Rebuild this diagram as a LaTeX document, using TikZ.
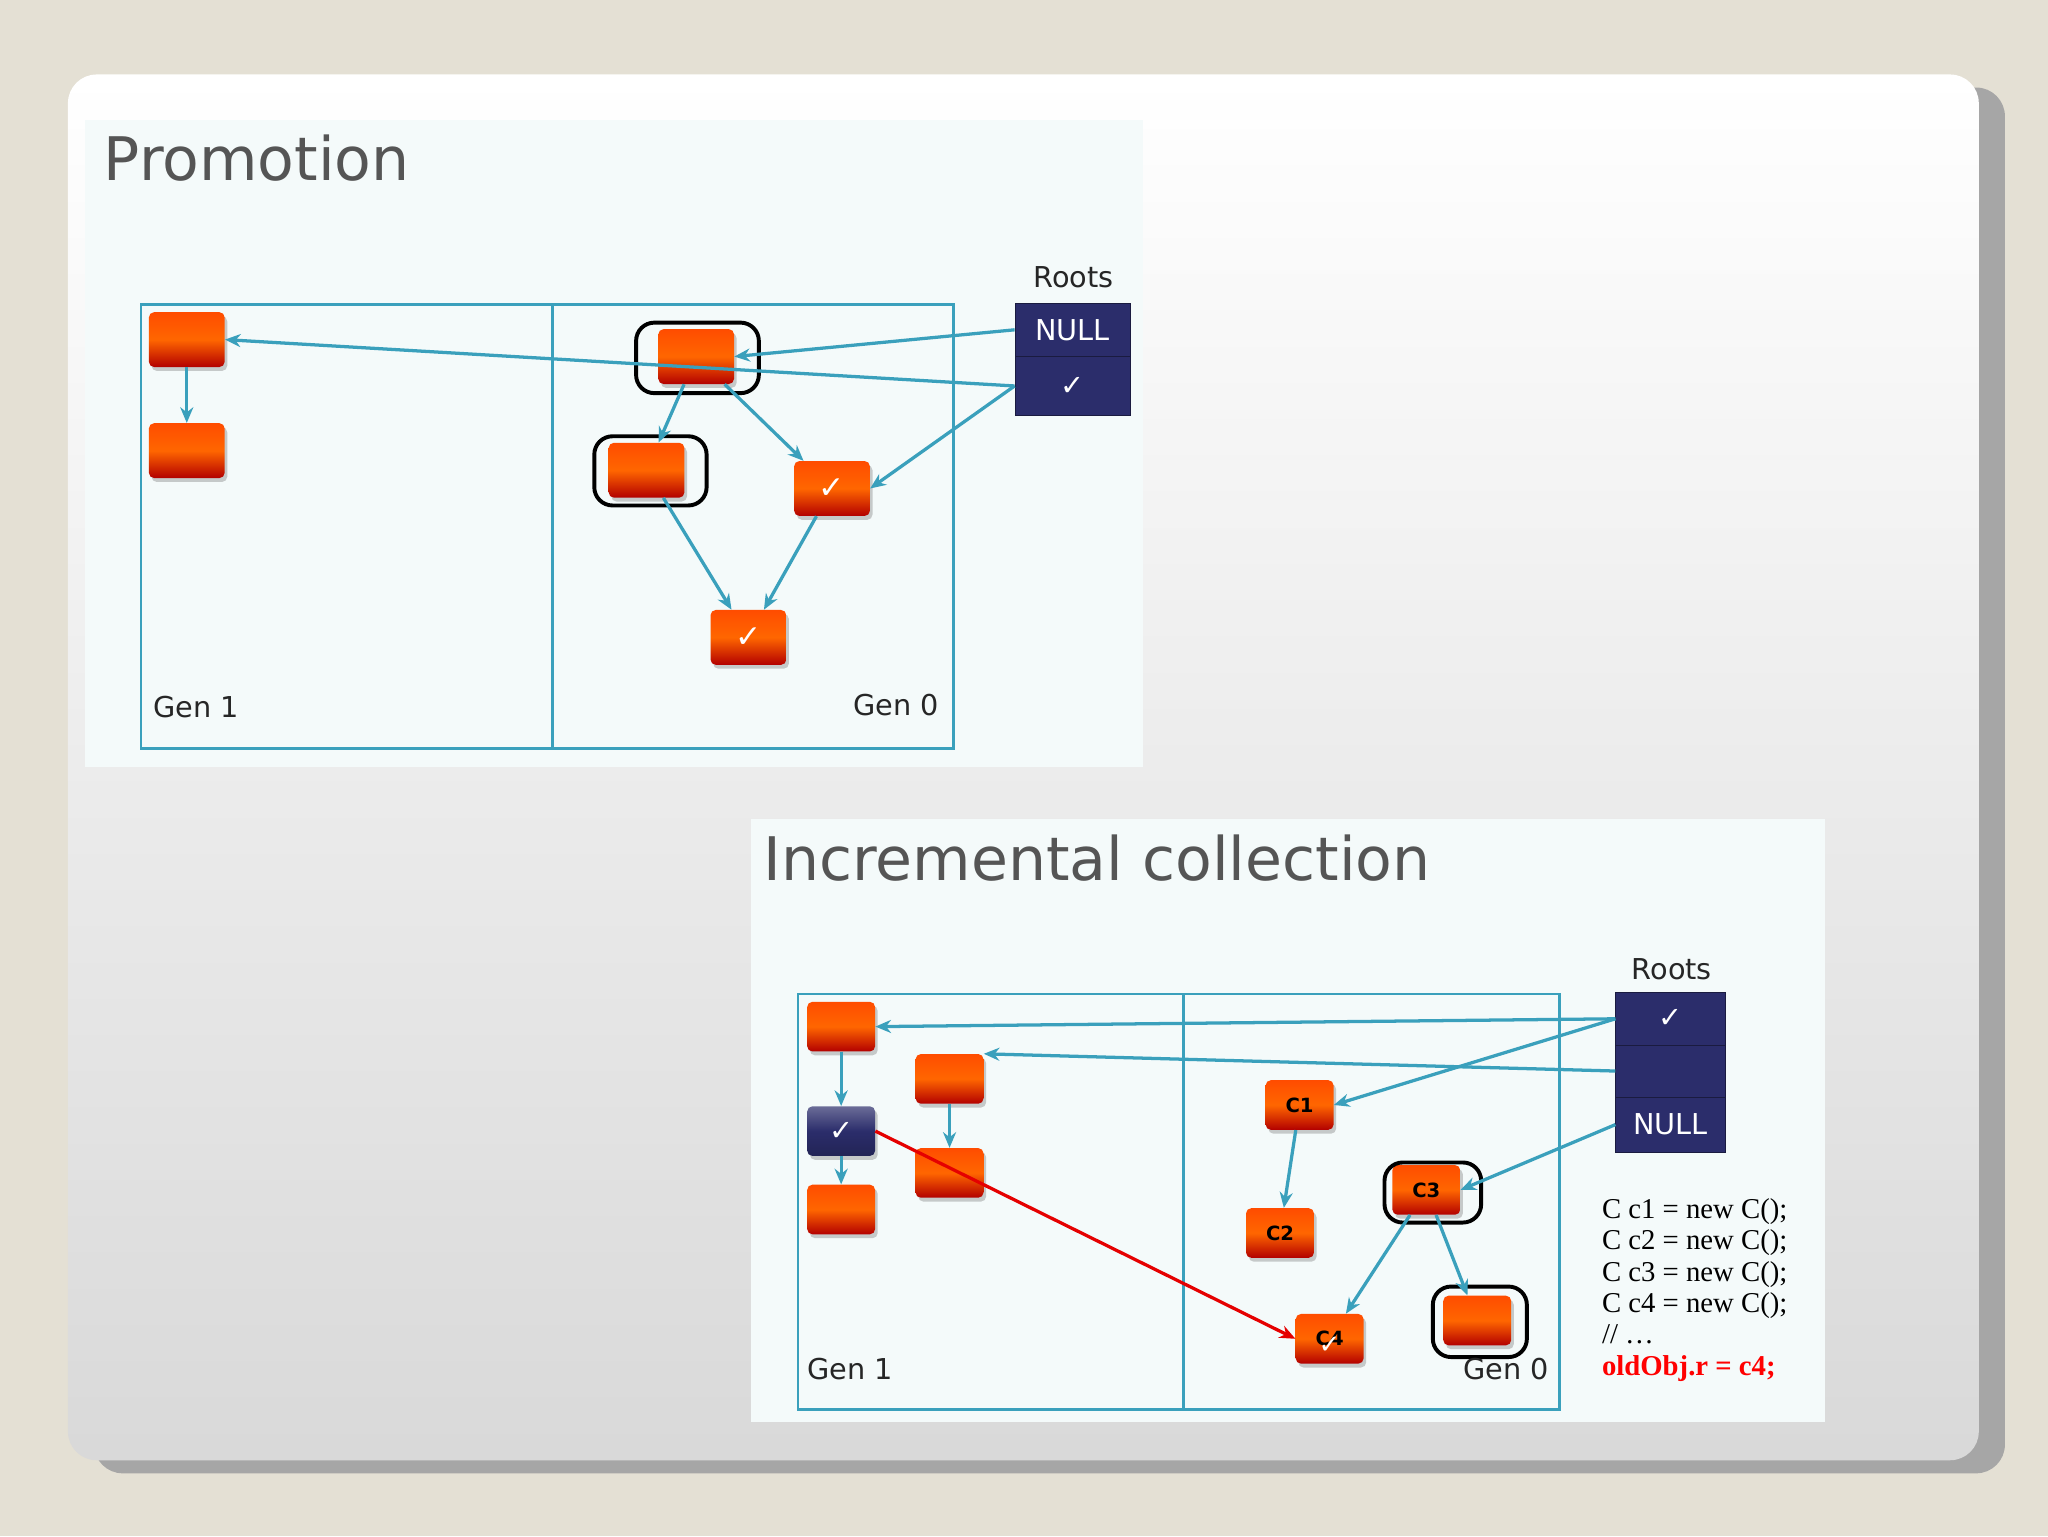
\documentclass[tikz,border=0pt]{standalone}
\usepackage{fontspec}
\setmainfont{DejaVu Sans}
\newfontfamily\codefont{Liberation Serif}
\usetikzlibrary{arrows.meta,shadows}
\newcommand{\tick}{{\fontspec{DejaVu Sans}✓}}
\definecolor{bgc}{HTML}{E4E0D4}
\definecolor{teal}{HTML}{3AA0BC}
\definecolor{navy}{HTML}{2B2D6B}
\definecolor{ttl}{HTML}{555555}
\definecolor{pan}{HTML}{F4FAFA}
\tikzset{
 obj/.style={draw=none,rounded corners=4pt,minimum width=58pt,minimum height=42pt,top color=orange!60!red,bottom color=red!70!black,middle color=orange!80!red,drop shadow={shadow xshift=2pt,shadow yshift=-3pt,opacity=.4},text=white,font=\fontsize{24}{24}\selectfont},
 sobj/.style={obj,minimum width=52pt,minimum height=38pt,font=\fontsize{15}{15}\selectfont\bfseries,text=black},
 nobj/.style={sobj,top color=navy!70,bottom color=navy!80!black,middle color=navy,text=white,font=\fontsize{22}{22}\selectfont},
 ring/.style={draw=black,line width=3pt,rounded corners=14pt,fill=none},
 arr/.style={draw=teal,line width=2.5pt,-{Stealth[length=12pt,width=10pt]}},
 lbl/.style={font=\fontsize{22}{22}\selectfont,text=black!85},
 root/.style={draw=navy!60!black,fill=navy,minimum width=88pt,inner sep=0pt,text=white,font=\fontsize{22}{22}\selectfont},
 ttl/.style={font=\fontsize{46}{46}\selectfont,text=ttl,anchor=west},
 code/.style={font=\codefont\fontsize{22}{24}\selectfont,anchor=north west,align=left}
}
\begin{document}
\begin{tikzpicture}[x=1pt,y=-1pt]
\useasboundingbox (0,0) rectangle (1568,1176);
\fill[bgc] (0,0) rectangle (1568,1176);
\fill[black!35,rounded corners=22pt] (72,67) rectangle (1535,1128);
\shade[top color=white,bottom color=black!15,rounded corners=22pt] (52,57) rectangle (1515,1118);
% panel 1
\fill[pan] (65,92) rectangle (875,587);
\node[ttl] (t1) at (76,121) {Promotion};
\draw[teal,line width=2pt] (108,233) rectangle (730,573) (423,233) -- (423,573);
\node[lbl] (r1) at (822,212) {Roots};
\node[root,minimum height=41pt] (rn) at (821,252.5) {NULL};
\node[root,minimum height=45pt] (rc) at (821,295.5) {\tick};
\node[obj] (a1) at (143,260) {};
\node[obj] (a2) at (143,345) {};
\node[obj] (b) at (533,273) {};
\node[obj] (c) at (495,360) {};
\node[obj] (d) at (637,374) {\tick};
\node[obj] (e) at (573,488) {\tick};
\draw[ring] (487,247) rectangle (581,301);
\draw[ring] (455,334) rectangle (541,387);
\draw[arr] (rn.west) -- (b.east);
\draw[arr] (rc.west) -- (a1.east);
\draw[arr] (rc.west) -- (d.east);
\draw[arr] (b) -- (c);
\draw[arr] (b) -- (d);
\draw[arr] (c) -- (e);
\draw[arr] (d) -- (e);
\draw[arr] (a1) -- (a2);
\node[lbl] (g1) at (150,541) {Gen 1};
\node[lbl] (g0) at (686,540) {Gen 0};
% panel 2
\fill[pan] (575,627) rectangle (1397,1089);
\node[ttl] (t2) at (581,657) {Incremental collection};
\draw[teal,line width=2pt] (611,761) rectangle (1194,1079) (906,761) -- (906,1079);
\node[lbl] (r2) at (1280,742) {Roots};
\node[root,minimum width=84pt,minimum height=40pt] (s1) at (1279,780) {\tick};
\node[root,minimum width=84pt,minimum height=40pt] (s2) at (1279,820) {};
\node[root,minimum width=84pt,minimum height=42pt] (s3) at (1279,861) {NULL};
\node[sobj] (p1) at (644,786) {};
\node[nobj] (p2) at (644,866) {\tick};
\node[sobj] (p3) at (644,926) {};
\node[sobj] (q1) at (727,826) {};
\node[sobj] (q2) at (727,898) {};
\node[sobj] (c1) at (995,846) {C1};
\node[sobj] (c2) at (980,944) {C2};
\node[sobj] (c3) at (1092,911) {C3};
\node[sobj] (c4) at (1018,1025) {C4};
\node[font=\fontsize{20}{20}\selectfont,text=white] (ck) at (1018,1030) {\tick};
\node[sobj] (x) at (1131,1011) {};
\draw[ring] (1060,890) rectangle (1134,936);
\draw[ring] (1097,985) rectangle (1169,1039);
\draw[arr] (s1.west) -- (p1.east);
\draw[arr] (s2.west) -- (q1.north east);
\draw[arr] (s1.west) -- (c1.east);
\draw[arr] (s3.west) -- (c3.east);
\draw[arr] (c1) -- (c2);
\draw[arr] (c3) -- (c4);
\draw[arr] (c3) -- (x);
\draw[arr] (p1) -- (p2);
\draw[arr] (p2) -- (p3);
\draw[arr] (q1) -- (q2);
\draw[red!90!black,line width=2.5pt,-{Stealth[length=12pt,width=10pt]}] (p2.east) -- (c4.west);
\node[lbl] (h1) at (651,1048) {Gen 1};
\node[lbl] (h0) at (1153,1048) {Gen 0};
\node[code] (cd) at (1223,914) {C c1 = new C();\\C c2 = new C();\\C c3 = new C();\\C c4 = new C();\\// \dots\\\textcolor{red}{\textbf{oldObj.r = c4;}}};
\end{tikzpicture}
\end{document}
